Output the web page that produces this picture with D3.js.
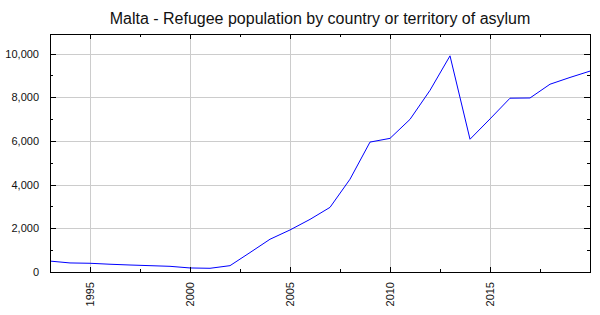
<!DOCTYPE html>
<html lang="en">
<head>
<meta charset="utf-8">
<script src="https://d3js.org/d3.v7.min.js"></script>
<style>
  body { margin: 0; background: #fff; }
  svg { display: block; font-family: "Liberation Sans", Arial, sans-serif; }
  .grid line { stroke: #cccccc; stroke-width: 1; shape-rendering: crispEdges; }
  .tick text { fill: #111; font-size: 11px; }
</style>
</head>
<body>
<script>
// values
var years = [1993, 1994, 1995, 1996, 1997, 1998, 1999, 2000, 2001, 2002,
             2003, 2004, 2005, 2006, 2007, 2008, 2009, 2010, 2011, 2012,
             2013, 2014, 2015, 2016, 2017, 2018, 2019, 2020];
var refugees = [500, 415, 400, 355, 320, 290, 260, 185, 170, 290,
                890, 1500, 1925, 2410, 2960, 4250, 5950, 6120, 6990, 8320,
                9900, 6080, 7010, 7960, 7970, 8600, 8910, 9200];
var xTicks = [1995, 2000, 2005, 2010, 2015];
var xMinor = [1997.5, 2002.5, 2007.5, 2012.5, 2017.5];
var yTicks = [0, 2000, 4000, 6000, 8000, 10000];
var yMinor = [1000, 3000, 5000, 7000, 9000];
var title = "Malta - Refugee population by country or territory of asylum";

var width = 600, height = 315;
var margin = {top: 34, right: 10, bottom: 43, left: 50};
var w = width - margin.left - margin.right,
    h = height - margin.top - margin.bottom;

var svg = d3.select("body").append("svg")
    .attr("width", width)
    .attr("height", height);

svg.append("text")
    .attr("x", margin.left + w / 2)
    .attr("y", 24)
    .attr("text-anchor", "middle")
    .style("font-size", "16px")
    .style("fill", "#111")
    .text(title);

var g = svg.append("g")
    .attr("transform", "translate(" + margin.left + "," + margin.top + ")");

var x = d3.scaleLinear().domain([1993, 2020]).range([0, w]);
var y = d3.scaleLinear().domain([0, 10900]).range([h, 0]);

// gridlines
var grid = g.append("g").attr("class", "grid");
grid.selectAll(".gx").data(xTicks).enter().append("line")
    .attr("x1", function(d) { return Math.round(x(d)) + 0.5; })
    .attr("x2", function(d) { return Math.round(x(d)) + 0.5; })
    .attr("y1", 0).attr("y2", h);
grid.selectAll(".gy").data(yTicks.filter(function(d) { return d > 0; })).enter().append("line")
    .attr("y1", function(d) { return Math.round(y(d)) + 0.5; })
    .attr("y2", function(d) { return Math.round(y(d)) + 0.5; })
    .attr("x1", 0).attr("x2", w);

// line
var line = d3.line()
    .x(function(d, i) { return x(years[i]); })
    .y(function(d) { return y(d); });

g.append("path")
    .datum(refugees)
    .attr("fill", "none")
    .attr("stroke", "#0000ff")
    .attr("stroke-width", 1)
    .attr("d", line);

// frame
g.append("rect")
    .attr("x", 0.5).attr("y", 0.5)
    .attr("width", w).attr("height", h)
    .attr("fill", "none")
    .attr("stroke", "#000")
    .attr("shape-rendering", "crispEdges");

// axes with inward ticks on all four sides
function styleAxis(sel) {
  sel.select(".domain").remove();
  sel.selectAll(".tick line").attr("stroke", "#000").attr("shape-rendering", "crispEdges");
}

var bottom = g.append("g")
    .attr("transform", "translate(0," + h + ")")
    .call(d3.axisBottom(x).tickValues(xTicks).tickSize(-5).tickPadding(8).tickFormat(d3.format("d")));
styleAxis(bottom);
bottom.selectAll(".tick text")
    .attr("transform", "rotate(-90)")
    .attr("text-anchor", "end")
    .attr("x", -10).attr("y", 0).attr("dy", "0.35em");
g.append("g").attr("transform", "translate(0," + h + ")")
    .call(d3.axisBottom(x).tickValues(xMinor).tickSize(-3).tickFormat(""))
    .call(styleAxis);

g.append("g")
    .call(d3.axisTop(x).tickValues(xTicks).tickSize(-5).tickFormat(""))
    .call(styleAxis);
g.append("g")
    .call(d3.axisTop(x).tickValues(xMinor).tickSize(-3).tickFormat(""))
    .call(styleAxis);

var left = g.append("g")
    .call(d3.axisLeft(y).tickValues(yTicks).tickSize(-6).tickPadding(11).tickFormat(d3.format(",")));
styleAxis(left);
g.append("g")
    .call(d3.axisLeft(y).tickValues(yMinor).tickSize(-3).tickFormat(""))
    .call(styleAxis);

g.append("g").attr("transform", "translate(" + w + ",0)")
    .call(d3.axisRight(y).tickValues(yTicks).tickSize(-6).tickFormat(""))
    .call(styleAxis);
g.append("g").attr("transform", "translate(" + w + ",0)")
    .call(d3.axisRight(y).tickValues(yMinor).tickSize(-3).tickFormat(""))
    .call(styleAxis);
</script>
</body>
</html>
